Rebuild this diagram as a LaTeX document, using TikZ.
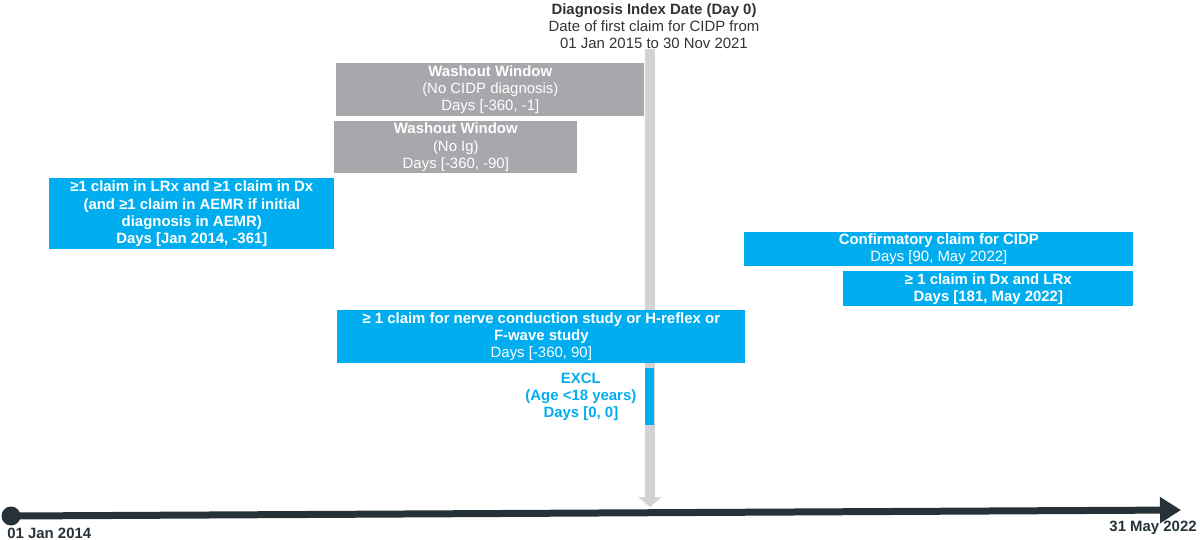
\documentclass[tikz,border=0pt]{standalone}
\usepackage{fontspec}
\setmainfont{Liberation Sans}
\usepackage{tikz}
\usetikzlibrary{positioning,arrows.meta}
\usepackage{xcolor}
\definecolor{cyanbox}{RGB}{0,174,239}
\definecolor{washgray}{RGB}{166,168,171}
\definecolor{bargray}{RGB}{209,211,213}
\definecolor{axisdark}{RGB}{38,50,56}
\definecolor{titletext}{RGB}{51,51,51}

\begin{document}
\begin{tikzpicture}[x=0.02cm,y=-0.02cm,
  every node/.style={font=\fontsize{8.5pt}{9.8pt}\selectfont},
  boldtext/.style={font=\fontsize{8.5pt}{9.8pt}\selectfont\bfseries},
  boxbase/.style={anchor=north west,inner sep=0pt,align=center,text=white},
  washbox/.style={boxbase,fill=washgray},
  bluebox/.style={boxbase,fill=cyanbox},
  idxarrow/.style={draw=bargray,line width=0.2cm,-{Triangle[length=0.2cm,width=0.46cm]}},
  axisline/.style={draw=axisdark,line width=0.14cm,-{Triangle[length=0.42cm,width=0.5cm]}}]
\useasboundingbox (0,0) rectangle (1200,539);

\node[align=center,inner sep=0pt,text=titletext] (idx) at (654,26) {
  \textbf{Diagnosis Index Date (Day 0)}\\
  Date of first claim for CIDP from\\
  01 Jan 2015 to 30 Nov 2021};

\node[circle,fill=axisdark,minimum size=0.38cm,inner sep=0pt] (tstart) at (11,516) {};
\coordinate (tend) at (1181,510);
\coordinate (day0) at (650,507);
\draw[axisline] (tstart.center) -- (tend);
\draw[idxarrow] (idx.south -| day0) -- (day0);

\node[washbox,minimum width=6.16cm,minimum height=1.06cm] (wash1) at (336,63) {
  \textbf{Washout Window}\\
  (No CIDP diagnosis)\\
  Days [-360, -1]};
\node[washbox,minimum width=4.86cm,minimum height=1.04cm] (wash2) at (334,121) {
  \textbf{Washout Window}\\
  (No Ig)\\
  Days [-360, -90]};
\node[bluebox,boldtext,minimum width=5.70cm,minimum height=1.42cm] (lrx) at (49,178) {
  ≥1 claim in LRx and ≥1 claim in Dx\\
  (and ≥1 claim in AEMR if initial\\
  diagnosis in AEMR)\\
  Days [Jan 2014, -361]};
\node[bluebox,minimum width=7.78cm,minimum height=0.68cm] (confirm) at (744,232) {
  \textbf{Confirmatory claim for CIDP}\\
  Days [90, May 2022]};
\node[bluebox,boldtext,minimum width=5.80cm,minimum height=0.70cm] (dxlrx) at (843,271) {
  ≥ 1 claim in Dx and LRx\\
  Days [181, May 2022]};
\node[bluebox,minimum width=8.16cm,minimum height=1.06cm] (nerve) at (337,310) {
  \textbf{≥ 1 claim for nerve conduction study or H-reflex or}\\
  \textbf{F-wave study}\\
  Days [-360, 90]};

\node[anchor=north,fill=cyanbox,inner sep=0pt,minimum width=0.18cm,minimum height=1.14cm] (exclbar) at (649.5,368) {};
\node[boldtext,align=center,inner sep=0pt,text=cyanbox,left=0.16cm of exclbar] (excl) {
  EXCL\\
  (Age <18 years)\\
  Days [0, 0]};

\node[boldtext,anchor=west,inner sep=0pt,text=axisdark] (tfirst) at (7,533) {01 Jan 2014};
\node[boldtext,anchor=east,inner sep=0pt,text=axisdark] (tlast) at (1197,528) {31 May 2022};
\end{tikzpicture}
\end{document}
